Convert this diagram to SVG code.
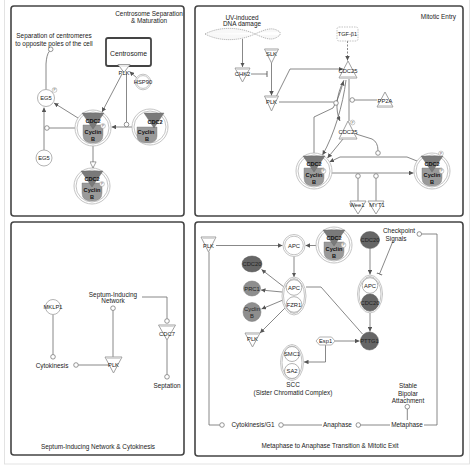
<svg xmlns="http://www.w3.org/2000/svg" width="474" height="474" viewBox="0 0 474 474">
<style>
text{font-family:"Liberation Sans",Arial,sans-serif;font-size:6.4px;fill:#222;text-anchor:middle}
.pn{fill:#fff;stroke:#444;stroke-width:1.6}
.ln{fill:none;stroke:#6a6a6a;stroke-width:0.8}
.oc{fill:#fff;stroke:#6a6a6a;stroke-width:0.7}
.nd{fill:#fff;stroke:#aaa;stroke-width:0.9}
.ring{fill:#fff;stroke:#b5b5b5;stroke-width:0.8}
.ring2{fill:none;stroke:#b5b5b5;stroke-width:0.8}
.tri{fill:#fff;stroke:#a0a0a0;stroke-width:1}
.cdc{fill:#7a7a7a;stroke:#666;stroke-width:0.4}
.cyc{fill:#9a9a9a;stroke:#777;stroke-width:0.4}
.dk{fill:#666;stroke:#555;stroke-width:0.5}
.md{fill:#8e8e8e;stroke:#777;stroke-width:0.5}
.s{font-size:5.8px}
.b{font-size:5.6px;font-weight:bold;fill:#111}
.pc{fill:#fff;stroke:#999;stroke-width:0.5}
.pt{font-size:3.2px;fill:#555}
</style>
<defs>
<marker id="ar" viewBox="0 0 6 6" refX="6" refY="3" markerWidth="4.5" markerHeight="4.5" orient="auto" markerUnits="userSpaceOnUse"><path d="M0,0 L6,3 L0,6 Z" fill="#555"/></marker>
<marker id="ot" viewBox="0 0 8 8" refX="7.5" refY="4" markerWidth="7" markerHeight="7" orient="auto" markerUnits="userSpaceOnUse"><path d="M0.5,0.5 L7.5,4 L0.5,7.5 Z" fill="#fff" stroke="#666" stroke-width="0.7"/></marker>
<marker id="tb" viewBox="0 0 2 8" refX="1" refY="4" markerWidth="1.5" markerHeight="6" orient="auto" markerUnits="userSpaceOnUse"><path d="M1,0 L1,8" stroke="#555" stroke-width="1.2"/></marker>
</defs>
<rect x="0" y="0" width="474" height="474" fill="#fff"/>
<rect x="4.5" y="-2" width="465" height="466" fill="none" stroke="#ddd" stroke-width="0.8"/>
<g id="panels">
<rect class="pn" x="11" y="6" width="173" height="210" rx="3"/>
<rect class="pn" x="195" y="6" width="268" height="210" rx="3"/>
<rect class="pn" x="11" y="222" width="173" height="233" rx="3"/>
<rect class="pn" x="195" y="222" width="268" height="234" rx="3"/>
</g>
<g id="titles">
<text x="149" y="16">Centrosome Separation</text>
<text x="149" y="22.5">&amp; Maturation</text>
<text x="456" y="19" style="text-anchor:end">Mitotic Entry</text>
<text x="98" y="449">Septum-Inducing Network &amp; Cytokinesis</text>
<text x="330" y="447.5">Metaphase to Anaphase Transition &amp; Mitotic Exit</text>
</g>
<g id="connectors">
<!-- top-left -->
<path class="ln" d="M46,89.5 L46,64 Q46.5,55 49.3,51.3"/>
<path class="ln" d="M44,150 L44,107.5" marker-end="url(#ar)"/>
<path class="ln" d="M75,128 L49.2,128"/>
<path class="ln" d="M78,118 L54,103" marker-end="url(#ar)"/>
<path class="ln" d="M122,74 L102,112" marker-end="url(#ar)"/>
<path class="ln" d="M137,78 L129.5,71.5" marker-end="url(#ar)"/>
<path class="ln" d="M126.5,74 L126.5,122.2"/>
<path class="ln" d="M132,127 L111.5,127" marker-end="url(#ar)"/>
<path class="ln" d="M93,146 L93,168" marker-end="url(#ot)"/>
<!-- top-right -->
<path class="ln" d="M242.5,39 L242.5,67" marker-end="url(#ar)"/>
<path class="ln" d="M251,74 L267,74" marker-end="url(#tb)"/>
<path class="ln" d="M271.5,63 L271.5,95.5" marker-end="url(#ar)"/>
<path class="ln" d="M276,97 L290,69 L343,69" marker-end="url(#ar)"/>
<path class="ln" d="M347.5,41 L347.5,60.5" stroke-dasharray="2,1.5" marker-end="url(#ar)"/>
<path class="ln" d="M377,100 L354.5,100"/>
<path class="ln" d="M349,79 L349,121"/>
<path class="ln" d="M344,80 C336,95 335,110 340,121" marker-end="url(#ar)"/>
<path class="ln" d="M279,102 L333.7,102"/>
<path class="ln" d="M314,153 L314,117 L333,108 C338,100 341,90 343.5,81" marker-end="url(#ar)"/>
<path class="ln" d="M346,80 C343,105 334,135 322.5,155" marker-end="url(#ar)"/>
<path class="ln" d="M343,139 L327.5,158" marker-end="url(#ar)"/>
<path class="ln" d="M356,134 L372,139 Q378,142 378,150.7"/>
<path class="ln" d="M417,161 L407,157 L340,157 L329.5,162" marker-end="url(#ar)"/>
<path class="ln" d="M332,173 L413.5,173" marker-end="url(#ar)"/>
<path class="ln" d="M358,201 L358,178.3"/>
<path class="ln" d="M376,201 L376,178.3"/>
<!-- bottom-left -->
<path class="ln" d="M53,314.5 L53,354.5"/>
<path class="ln" d="M78.3,365 L110,365"/>
<path class="ln" d="M113,310.5 L113,357"/>
<path class="ln" d="M142,297 L167,297 L167,318.7"/>
<path class="ln" d="M167,340 L167,374.5"/>
<!-- bottom-right -->
<path class="ln" d="M216,245.5 L282.5,245.5" marker-end="url(#ar)"/>
<path class="ln" d="M316,245.5 L305.5,245.5" marker-end="url(#ar)"/>
<path class="ln" d="M294,256.5 L294,277" marker-end="url(#ar)"/>
<path class="ln" d="M284,287 L261.5,269.5" marker-end="url(#ar)"/>
<path class="ln" d="M282,292 L261,290" marker-end="url(#ar)"/>
<path class="ln" d="M283,300 L261.5,309" marker-end="url(#ar)"/>
<path class="ln" d="M285,308 L260,333" marker-end="url(#ar)"/>
<path class="ln" d="M306,287 L321,287 L362.5,334"/>
<path class="ln" d="M370,248.5 L370,274.5" marker-end="url(#ar)"/>
<path class="ln" d="M393,241 L379.5,274" marker-end="url(#tb)"/>
<path class="ln" d="M370,313 L370,331.5" marker-end="url(#ar)"/>
<path class="ln" d="M335,341 L359.5,341" marker-end="url(#ar)"/>
<path class="ln" d="M325.5,345 L325.5,362 L304,362" marker-end="url(#ar)"/>
<path class="ln" d="M209,252 L209,425 L219.7,425"/>
<path class="ln" d="M283.3,425 L322,425"/>
<path class="ln" d="M360.6,425 L390,425"/>
<path class="ln" d="M424,425 L437,425 L437,234 L421.6,234"/>
<path class="ln" d="M407.3,409 L407.3,420"/>
<!-- small modulation circles -->
<circle class="oc" cx="50.7" cy="49.3" r="2.3"/>
<circle class="oc" cx="46.9" cy="128" r="2.3"/>
<circle class="oc" cx="126.5" cy="124.5" r="2.3"/>
<circle class="oc" cx="352.2" cy="100" r="2.3"/>
<circle class="oc" cx="336" cy="103" r="2.3"/>
<circle class="oc" cx="378" cy="153" r="2.3"/>
<circle class="oc" cx="358" cy="176" r="2.3"/>
<circle class="oc" cx="376" cy="176" r="2.3"/>
<circle class="oc" cx="53" cy="356.8" r="2.3"/>
<circle class="oc" cx="76" cy="365" r="2.3"/>
<circle class="oc" cx="113" cy="308.2" r="2.3"/>
<circle class="oc" cx="167" cy="321" r="2.3"/>
<circle class="oc" cx="167" cy="376.8" r="2.3"/>
<circle class="oc" cx="222" cy="425" r="2.3"/>
<circle class="oc" cx="281" cy="425" r="2.3"/>
<circle class="oc" cx="358.3" cy="425" r="2.3"/>
<circle class="oc" cx="419.3" cy="234" r="2.3"/>
<circle class="oc" cx="407.3" cy="406.7" r="2.3"/>
</g>

<!-- ===== top-left nodes ===== -->
<g id="sep-centromeres"><text x="54" y="38">Separation of centromeres</text><text x="54" y="45.5">to opposite poles of the cell</text></g>
<g id="centrosome"><rect x="106" y="38" width="45" height="28" rx="2" fill="#fff" stroke="#444" stroke-width="1.8"/><text x="128.5" y="55.5" style="font-size:6.8px">Centrosome</text></g>
<g id="plk-tl"><polygon class="tri" points="118,64.5 130,64.5 124,72.5"/><line x1="119.5" y1="66" x2="128.5" y2="66" stroke="#bbb" stroke-width="0.6"/><text x="124" y="74.5" class="s">PLK</text></g>
<g id="hsp90"><circle class="ring" cx="143" cy="82" r="7.8"/><circle class="ring2" cx="143" cy="82" r="6.4"/><text x="143" y="84" class="s">HSP90</text></g>
<g id="eg5-a"><circle class="nd" cx="46" cy="98" r="8.5"/><text x="46" y="100.2" class="s">EG5</text><circle class="pc" cx="54.5" cy="90" r="2.4"/><text x="54.5" y="91.1" class="pt">P</text></g>
<g id="eg5-b"><circle class="nd" cx="44" cy="158" r="8"/><text x="44" y="160.2" class="s">EG5</text></g>
<g id="cdc2-cyclinb-1" transform="translate(93,128)">
<circle class="ring" r="18"/><circle class="ring2" r="16"/>
<path class="cyc" d="M-10,-3 H10 V7 Q10,15 0,15 Q-10,15 -10,7 Z"/>
<path class="cdc" d="M-11,-15 H11 L0,1 Z"/>
<text y="-5" class="b">CDC2</text><text y="6" class="b">Cyclin</text><text y="13" class="b">B</text>
<circle class="pc" cx="10" cy="-2" r="2.4"/><text x="10" y="-0.9" class="pt">P</text>
</g>
<g id="cdc2-cyclinb-2" transform="translate(150,127)">
<circle class="ring" r="18"/><circle class="ring2" r="16"/>
<path class="cyc" d="M-13,0 H7 V9 Q7,16 -3,16 Q-13,16 -13,9 Z"/>
<path class="cdc" d="M-6,-14 H14 L4,1 Z"/>
<text x="5" y="-3" class="b">CDC2</text><text x="-4" y="7" class="b">Cyclin</text><text x="-3" y="13.5" class="b">B</text>
</g>
<g id="cdc2-cyclinb-3" transform="translate(92,186)">
<circle class="ring" r="18"/><circle class="ring2" r="16"/>
<path class="cyc" d="M-10,-3 H10 V7 Q10,15 0,15 Q-10,15 -10,7 Z"/>
<path class="cdc" d="M-11,-15 H11 L0,1 Z"/>
<text y="-5" class="b">CDC2</text><text y="6" class="b">Cyclin</text><text y="13" class="b">B</text>
<circle class="pc" cx="10" cy="-2" r="2.4"/><text x="10" y="-0.9" class="pt">P</text>
</g>

<!-- ===== top-right nodes ===== -->
<g id="uv-dna-damage"><text x="242" y="19.5">UV-induced</text><text x="242" y="26">DNA damage</text>
<path d="M205,34 C220,26 240,27 255,34 S274,40 280,35 M205,34 C220,42 240,41 255,34 S274,28 280,32 M280,32 L280,35" fill="#f4f4f4" fill-opacity="0.6" stroke="#999" stroke-width="0.7" stroke-dasharray="1.2,0.8"/></g>
<g id="chk2"><polygon class="tri" points="235,68 250,68 242.5,82"/><line x1="236.8" y1="69.5" x2="248.2" y2="69.5" stroke="#bbb" stroke-width="0.6"/><text x="242.5" y="76" class="s">CHK2</text></g>
<g id="slk"><polygon class="tri" points="264.5,49 278.5,49 271.5,63"/><line x1="266.3" y1="50.5" x2="276.7" y2="50.5" stroke="#bbb" stroke-width="0.6"/><text x="271.5" y="55.5" class="s">SLK</text></g>
<g id="plk-tr"><polygon class="tri" points="264.5,96 278.5,96 271.5,111"/><line x1="266.3" y1="97.5" x2="276.7" y2="97.5" stroke="#bbb" stroke-width="0.6"/><text x="271.5" y="104" class="s">PLK</text></g>
<g id="tgf-b1"><rect x="337" y="27" width="21" height="14" rx="2" fill="#fff" stroke="#aaa" stroke-width="0.7" stroke-dasharray="1.5,1"/><text x="347.5" y="36" style="font-size:5.6px">TGF-β1</text></g>
<g id="cdc25-a"><polygon class="tri" points="348,61 357,78 339,78"/><line x1="340.5" y1="76.5" x2="355.5" y2="76.5" stroke="#bbb" stroke-width="0.6"/><text x="348" y="72.5" class="s">CDC25</text></g>
<g id="pp2a"><polygon class="tri" points="385,92 393,107 377,107"/><line x1="378.5" y1="105.5" x2="391.5" y2="105.5" stroke="#bbb" stroke-width="0.6"/><text x="385" y="103" class="s">PP2A</text></g>
<g id="cdc25-b"><polygon class="tri" points="348,121 357,139 339,139"/><line x1="340.5" y1="137.5" x2="355.5" y2="137.5" stroke="#bbb" stroke-width="0.6"/><text x="348" y="134" class="s">CDC25</text><circle class="pc" cx="352.5" cy="122.5" r="2.4"/><text x="352.5" y="123.6" class="pt">P</text></g>
<g id="cdc2-cyclinb-4" transform="translate(314,171)">
<circle class="ring" r="18"/><circle class="ring2" r="16"/>
<path class="cyc" d="M-10,-3 H10 V7 Q10,15 0,15 Q-10,15 -10,7 Z"/>
<path class="cdc" d="M-11,-15 H11 L0,1 Z"/>
<text y="-5" class="b">CDC2</text><text y="6" class="b">Cyclin</text><text y="13" class="b">B</text>
<circle class="pc" cx="9.5" cy="0" r="2.4"/><text x="9.5" y="1.1" class="pt">P</text>
</g>
<g id="cdc2-cyclinb-5" transform="translate(432,171)">
<circle class="ring" r="18"/><circle class="ring2" r="16"/>
<path class="cyc" d="M-10,-3 H10 V7 Q10,15 0,15 Q-10,15 -10,7 Z"/>
<path class="cdc" d="M-11,-15 H11 L0,1 Z"/>
<text y="-5" class="b">CDC2</text><text y="6" class="b">Cyclin</text><text y="13" class="b">B</text>
<circle class="pc" cx="9.5" cy="0" r="2.4"/><text x="9.5" y="1.1" class="pt">P</text>
<circle class="pc" cx="9" cy="-17.5" r="2.4"/><text x="9" y="-16.4" class="pt">P</text>
</g>
<g id="wee1"><polygon class="tri" points="350,201 366,201 358,214"/><text x="357" y="207" class="s">Wee1</text></g>
<g id="myt1"><polygon class="tri" points="368,201 384,201 376,214"/><text x="377" y="207" class="s">MYT1</text></g>

<!-- ===== bottom-left nodes ===== -->
<g id="mklp1"><circle class="nd" cx="53" cy="307" r="7.5"/><text x="53" y="309.2" class="s">MKLP1</text></g>
<g id="septum-network"><text x="113" y="296.5">Septum-Inducing</text><text x="113" y="303">Network</text></g>
<g id="cytokinesis"><text x="52" y="367.5">Cytokinesis</text></g>
<g id="plk-bl"><polygon class="tri" points="105,357 122,357 113.5,373"/><line x1="106.8" y1="358.5" x2="120.2" y2="358.5" stroke="#bbb" stroke-width="0.6"/><text x="113.5" y="366.5" class="s">PLK</text></g>
<g id="cdc7"><polygon class="tri" points="158.5,325 175.5,325 167,340"/><line x1="160.3" y1="326.5" x2="173.7" y2="326.5" stroke="#bbb" stroke-width="0.6"/><text x="167" y="336" class="s">CDC7</text></g>
<g id="septation"><text x="167" y="388">Septation</text></g>

<!-- ===== bottom-right nodes ===== -->
<g id="plk-br1"><polygon class="tri" points="201,237 216,237 208.5,252"/><line x1="202.8" y1="238.5" x2="214.2" y2="238.5" stroke="#bbb" stroke-width="0.6"/><text x="208.5" y="247.5" class="s">PLK</text></g>
<g id="apc-1"><circle class="ring" cx="294" cy="245.5" r="11"/><circle class="ring2" cx="294" cy="245.5" r="9.3"/><text x="294" y="247.7" class="s">APC</text></g>
<g id="cdc2-cyclinb-6" transform="translate(334,245)">
<circle class="ring" r="18"/><circle class="ring2" r="16"/>
<path class="cyc" d="M-10,-3 H10 V7 Q10,15 0,15 Q-10,15 -10,7 Z"/>
<path class="cdc" d="M-11,-15 H11 L0,1 Z"/>
<text y="-5" class="b">CDC2</text><text y="6" class="b">Cyclin</text><text y="13" class="b">B</text>
<circle class="pc" cx="9.5" cy="0" r="2.4"/><text x="9.5" y="1.1" class="pt">P</text>
</g>
<g id="apc-fzr1"><ellipse class="ring" cx="294" cy="296" rx="12" ry="19"/><ellipse class="ring2" cx="294" cy="296" rx="10.5" ry="17.5"/><circle class="nd" cx="294" cy="287.5" r="7.8"/><circle class="nd" cx="294" cy="304.5" r="7.8"/><text x="294" y="289.7" class="s">APC</text><text x="294" y="306.7" class="s">FZR1</text></g>
<g id="cdc20-a"><ellipse class="dk" cx="252" cy="264" rx="10" ry="8"/><text x="252" y="266.2" class="s">CDC20</text></g>
<g id="prc1"><ellipse class="md" cx="252" cy="288.5" rx="8.5" ry="7.5"/><text x="252" y="290.7" class="s">PRC1</text></g>
<g id="cyclinb"><ellipse class="md" cx="252" cy="312" rx="9" ry="9.5"/><text x="252" y="311" class="s">Cyclin</text><text x="252" y="317.5" class="s">B</text></g>
<g id="plk-br2"><polygon class="tri" points="245,333 260,333 252.5,347"/><line x1="246.8" y1="334.5" x2="258.2" y2="334.5" stroke="#bbb" stroke-width="0.6"/><text x="252.5" y="341" class="s">PLK</text></g>
<g id="cdc20-b"><ellipse class="dk" cx="370" cy="240" rx="9.5" ry="8.5"/><text x="370" y="242.2" class="s">CDC20</text></g>
<g id="checkpoint"><text x="399" y="233">Checkpoint</text><text x="396" y="240.5">Signals</text></g>
<g id="apc-cdc20"><ellipse class="ring" cx="370" cy="294" rx="12.5" ry="19"/><ellipse class="ring2" cx="370" cy="294" rx="11" ry="17.5"/><circle class="nd" cx="370" cy="285.5" r="7.8"/><circle class="dk" cx="370" cy="302.5" r="8.5"/><text x="370" y="287.7" class="s">APC</text><text x="370" y="304.7" class="s">CDC20</text></g>
<g id="pttg1"><circle class="dk" cx="369.5" cy="341" r="9"/><text x="369.5" y="343.2" class="s">PTTG1</text></g>
<g id="esp1"><polygon class="nd" points="316,341 319.5,337 331.5,337 335,341 331.5,345 319.5,345"/><text x="325.5" y="343.2" class="s">Esp1</text></g>
<g id="scc"><ellipse class="ring" cx="292" cy="362.5" rx="11.5" ry="18"/><ellipse class="ring2" cx="292" cy="362.5" rx="10" ry="16.5"/><circle class="nd" cx="292" cy="354" r="7.5"/><circle class="nd" cx="292" cy="371" r="7.5"/><text x="292" y="356.2" class="s">SMC1</text><text x="292" y="373.2" class="s">SA2</text>
<text x="293" y="387">SCC</text><text x="293" y="394.5">(Sister Chromatid Complex)</text></g>
<g id="stable-attachment"><text x="408" y="388">Stable</text><text x="408" y="395.5">Bipolar</text><text x="408" y="403">Attachment</text></g>
<g id="cytokinesis-g1"><text x="253" y="427.3">Cytokinesis/G1</text></g>
<g id="anaphase"><text x="337.5" y="427.3">Anaphase</text></g>
<g id="metaphase"><text x="407" y="427.3">Metaphase</text></g>
</svg>
